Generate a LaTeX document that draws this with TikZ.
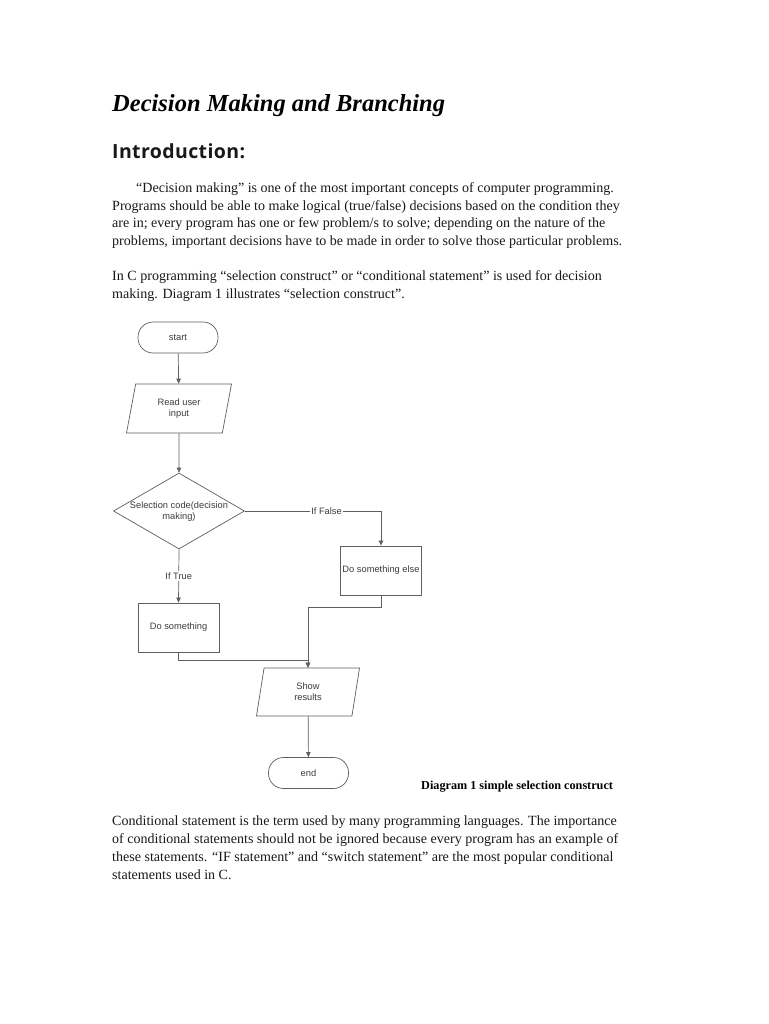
\documentclass[tikz,border=0pt]{standalone}
\usepackage{fontspec}
\setmainfont{Liberation Serif}
\newfontfamily\flowfont{Liberation Sans}
\newfontfamily\headfont[LetterSpace=2]{Open Sans}
\usetikzlibrary{shapes.geometric,arrows.meta}
\definecolor{flowline}{RGB}{95,95,95}
\definecolor{flowtxt}{RGB}{60,60,60}
\definecolor{bodytxt}{RGB}{25,25,25}

\begin{document}
\begin{tikzpicture}[x=1pt,y=-1pt,
    bodyline/.style={anchor=base west,inner sep=0pt,text=bodytxt,font=\fontsize{14.05}{16}\selectfont},
    flowtext/.style={inner sep=0pt,text=flowtxt,align=center,font=\flowfont\fontsize{9.3}{11}\selectfont},
    terminal/.style={flowtext,draw=flowline,line width=0.7pt,rounded corners=15pt,minimum width=80pt,minimum height=31pt},
    process/.style={flowtext,draw=flowline,line width=0.8pt,minimum width=81pt,minimum height=49pt},
    io/.style={flowtext,draw=flowline,line width=0.7pt,trapezium,trapezium left angle=65,trapezium right angle=115,
        trapezium stretches body,minimum width=105pt,minimum height=49pt},
    decision/.style={draw=flowline,line width=0.7pt,diamond,minimum width=131pt,minimum height=76pt,inner sep=0pt},
    branchlabel/.style={flowtext,fill=white,inner sep=1.5pt},
    flow/.style={draw=flowline,line width=0.7pt,-{Triangle[length=5pt,width=4.5pt]}}]

    \fill[white] (0,0) rectangle (768,1024);
    \useasboundingbox (0,0) rectangle (768,1024);

    % heading and introduction
    \node[anchor=base west,inner sep=0pt,font=\bfseries\itshape\fontsize{24.5}{28}\selectfont] (title) at (112,112) {Decision Making and Branching};
    \node[anchor=base west,inner sep=0pt,text=bodytxt,font=\headfont\bfseries\fontsize{19.5}{22}\selectfont] (intro) at (112,159) {Introduction:};

    \node[bodyline] (para1a) at (136,193) {“Decision making” is one of the most important concepts of computer programming.};
    \node[bodyline] (para1b) at (112,210.5) {Programs should be able to make logical (true/false) decisions based on the condition they};
    \node[bodyline] (para1c) at (112,228) {are in; every program has one or few problem/s to solve; depending on the nature of the};
    \node[bodyline] (para1d) at (112,245.5) {problems, important decisions have to be made in order to solve those particular problems.};

    \node[bodyline] (para2a) at (112,280.5) {In C programming “selection construct” or “conditional statement” is used for decision};
    \node[bodyline] (para2b) at (112,298) {making. Diagram 1 illustrates “selection construct”.};

    % flowchart
    \node[terminal] (start) at (178,337.5) {start};
    \node[io] (read) at (179,408.5) {Read user\\input};
    \node[decision] (sel) at (179,511) {};
    \node[flowtext] (seltext) at (179,512) {Selection code(decision\\making)};
    \node[process] (else) at (381,570.5) {Do something else};
    \node[process] (do) at (178.5,627.5) {Do something};
    \node[io,trapezium left angle=67,trapezium right angle=113,minimum width=103pt,minimum height=48pt] (show) at (308,692) {Show\\results};
    \node[terminal] (end) at (308.5,773) {end};

    \draw[flow] (start) -- (read);
    \draw[flow] (read) -- (sel);
    \draw[flow] (sel.east) -| node[branchlabel,pos=0.3] (false) {If False} (else.north);
    \draw[flow] (sel.south) -- node[branchlabel] (true) {If True} (do.north);
    \draw[flow] (do.south) -- ++(0,8) -| (show.north);
    \draw[flow] (else.south) -- ++(0,12) -| (show.north);
    \draw[flow] (show) -- (end);

    \node[anchor=base west,inner sep=0pt,font=\bfseries\fontsize{12.2}{14}\selectfont] (caption) at (421,789) {Diagram 1 simple selection construct};

    % closing paragraph
    \node[bodyline] (para3a) at (112,825) {Conditional statement is the term used by many programming languages. The importance};
    \node[bodyline] (para3b) at (112,843) {of conditional statements should not be ignored because every program has an example of};
    \node[bodyline] (para3c) at (112,861) {these statements. “IF statement” and “switch statement” are the most popular conditional};
    \node[bodyline] (para3d) at (112,879) {statements used in C.};
\end{tikzpicture}
\end{document}
